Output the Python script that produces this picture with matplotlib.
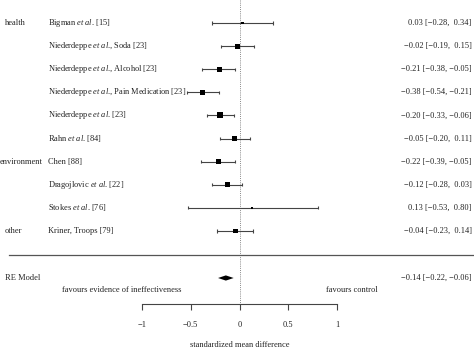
import matplotlib
matplotlib.use("Agg")
import matplotlib.pyplot as plt

# ---- data ----
groups = ["health", "environment", "other"]
group_rows = [1, 7, 10]
studies = [
    r"Bigman $\mathit{et\ al}$. [15]",
    r"Niederdeppe $\mathit{et\ al}$., Soda [23]",
    r"Niederdeppe $\mathit{et\ al}$., Alcohol [23]",
    r"Niederdeppe $\mathit{et\ al}$., Pain Medication [23]",
    r"Niederdeppe $\mathit{et\ al}$. [23]",
    r"Rahn $\mathit{et\ al}$. [84]",
    "Chen [88]",
    r"Dragojlovic $\mathit{et\ al}$. [22]",
    r"Stokes $\mathit{et\ al}$. [76]",
    "Kriner, Troops [79]",
]
est = [0.03, -0.02, -0.21, -0.38, -0.20, -0.05, -0.22, -0.12, 0.13, -0.04]
lo = [-0.28, -0.19, -0.38, -0.54, -0.33, -0.20, -0.39, -0.28, -0.53, -0.23]
hi = [0.34, 0.15, -0.05, -0.21, -0.06, 0.11, -0.05, 0.03, 0.80, 0.14]
weights = [3.0, 11.0, 11.0, 12.0, 15.0, 11.0, 11.0, 11.0, 1.5, 9.0]
re_est, re_lo, re_hi = -0.14, -0.22, -0.06
xticks = [-1, -0.5, 0, 0.5, 1]
xticklabels = ["\u22121", "\u22120.5", "0", "0.5", "1"]

plt.rcParams['font.family'] = ['Liberation Serif', 'DejaVu Serif']
plt.rcParams['mathtext.fontset'] = 'custom'
plt.rcParams['mathtext.rm'] = 'Liberation Serif'
plt.rcParams['mathtext.it'] = 'Liberation Serif:italic'

FS = 6.0
TC = '#222222'
LC = '#444444'

fig = plt.figure(figsize=(4.74, 3.5), dpi=100)
ax = fig.add_axes([0, 0, 1, 1])
ax.axis('off')
px = 97.5  # pixels per unit
x0 = -1 - 142 / px
x1 = 1 + (474 - 337) / px
ax.set_xlim(x0, x1)
rs = 23.1
ax.set_ylim(1 + (350 - 23) / rs, 1 - 23 / rs)

def fmt(v):
    s = f"{abs(v):.2f}"
    return ("\u2212" + s) if v < 0 else (" " + s)

rows = list(range(1, len(studies) + 1))
re_row = 1 + (278 - 23) / rs
sep_row = 1 + (255 - 23) / rs
fav_row = 1 + (290 - 23) / rs
axis_row = 1 + (304 - 23) / rs
tl_row = 1 + (325 - 23) / rs
xl_row = 1 + (345 - 23) / rs

# reference line
ax.plot([0, 0], [1 - 23 / rs, axis_row], ls=(0, (1, 1.2)), color='#888888', lw=0.7)

# CIs
cap = 1.6 / rs
ax.hlines(rows, lo, hi, color=LC, lw=0.8)
ax.vlines(lo, [r - cap for r in rows], [r + cap for r in rows], color=LC, lw=0.8)
ax.vlines(hi, [r - cap for r in rows], [r + cap for r in rows], color=LC, lw=0.8)
ax.scatter(est, rows, marker='s', s=[w * 1.2 for w in weights], color='black', zorder=3, linewidths=0)

# labels
lab_x = x0 + 48 / px
val_x = x0 + 471.7 / px
for r, s, e, l, h in zip(rows, studies, est, lo, hi):
    ax.text(lab_x, r, s, fontsize=FS, color=TC, ha='left', va='center')
    ax.text(val_x, r, f"{fmt(e).strip()} [{fmt(l)}, {fmt(h)}]", fontsize=FS, color=TC,
            ha='right', va='center')
for g, r in zip(groups, group_rows):
    if g == "environment":
        ax.text(x0 + 42 / px, r, g, fontsize=FS, color=TC, ha='right', va='center')
    else:
        ax.text(x0 + 5 / px, r, g, fontsize=FS, color=TC, ha='left', va='center')

# separator
ax.plot([x0 + 9 / px, x1], [sep_row, sep_row], color='#555555', lw=0.9)

# RE model
dh = 2.6 / rs
ax.fill([re_lo, re_est, re_hi, re_est], [re_row, re_row - dh, re_row, re_row + dh],
        color='black', lw=0)
ax.text(x0 + 5 / px, re_row, "RE Model", fontsize=FS, color=TC, ha='left', va='center')
ax.text(val_x, re_row, f"{fmt(re_est).strip()} [{fmt(re_lo)}, {fmt(re_hi)}]", fontsize=FS,
        color=TC, ha='right', va='center')

ax.text(x0 + 122 / px, fav_row, "favours evidence of ineffectiveness", fontsize=FS, color=TC,
        ha='center', va='center')
ax.text(x0 + 352 / px, fav_row, "favours control", fontsize=FS, color=TC,
        ha='center', va='center')

# x axis
ax.plot([xticks[0], xticks[-1]], [axis_row, axis_row], color=LC, lw=0.8)
ax.vlines(xticks, axis_row, axis_row + 6 / rs, color=LC, lw=0.8)
for t, tl in zip(xticks, xticklabels):
    ax.text(t, tl_row, tl, fontsize=FS, color=TC, ha='center', va='center')
ax.text(0, xl_row, "standardized mean difference", fontsize=FS, color=TC, ha='center', va='center')

fig.savefig("out.png", dpi=100)
